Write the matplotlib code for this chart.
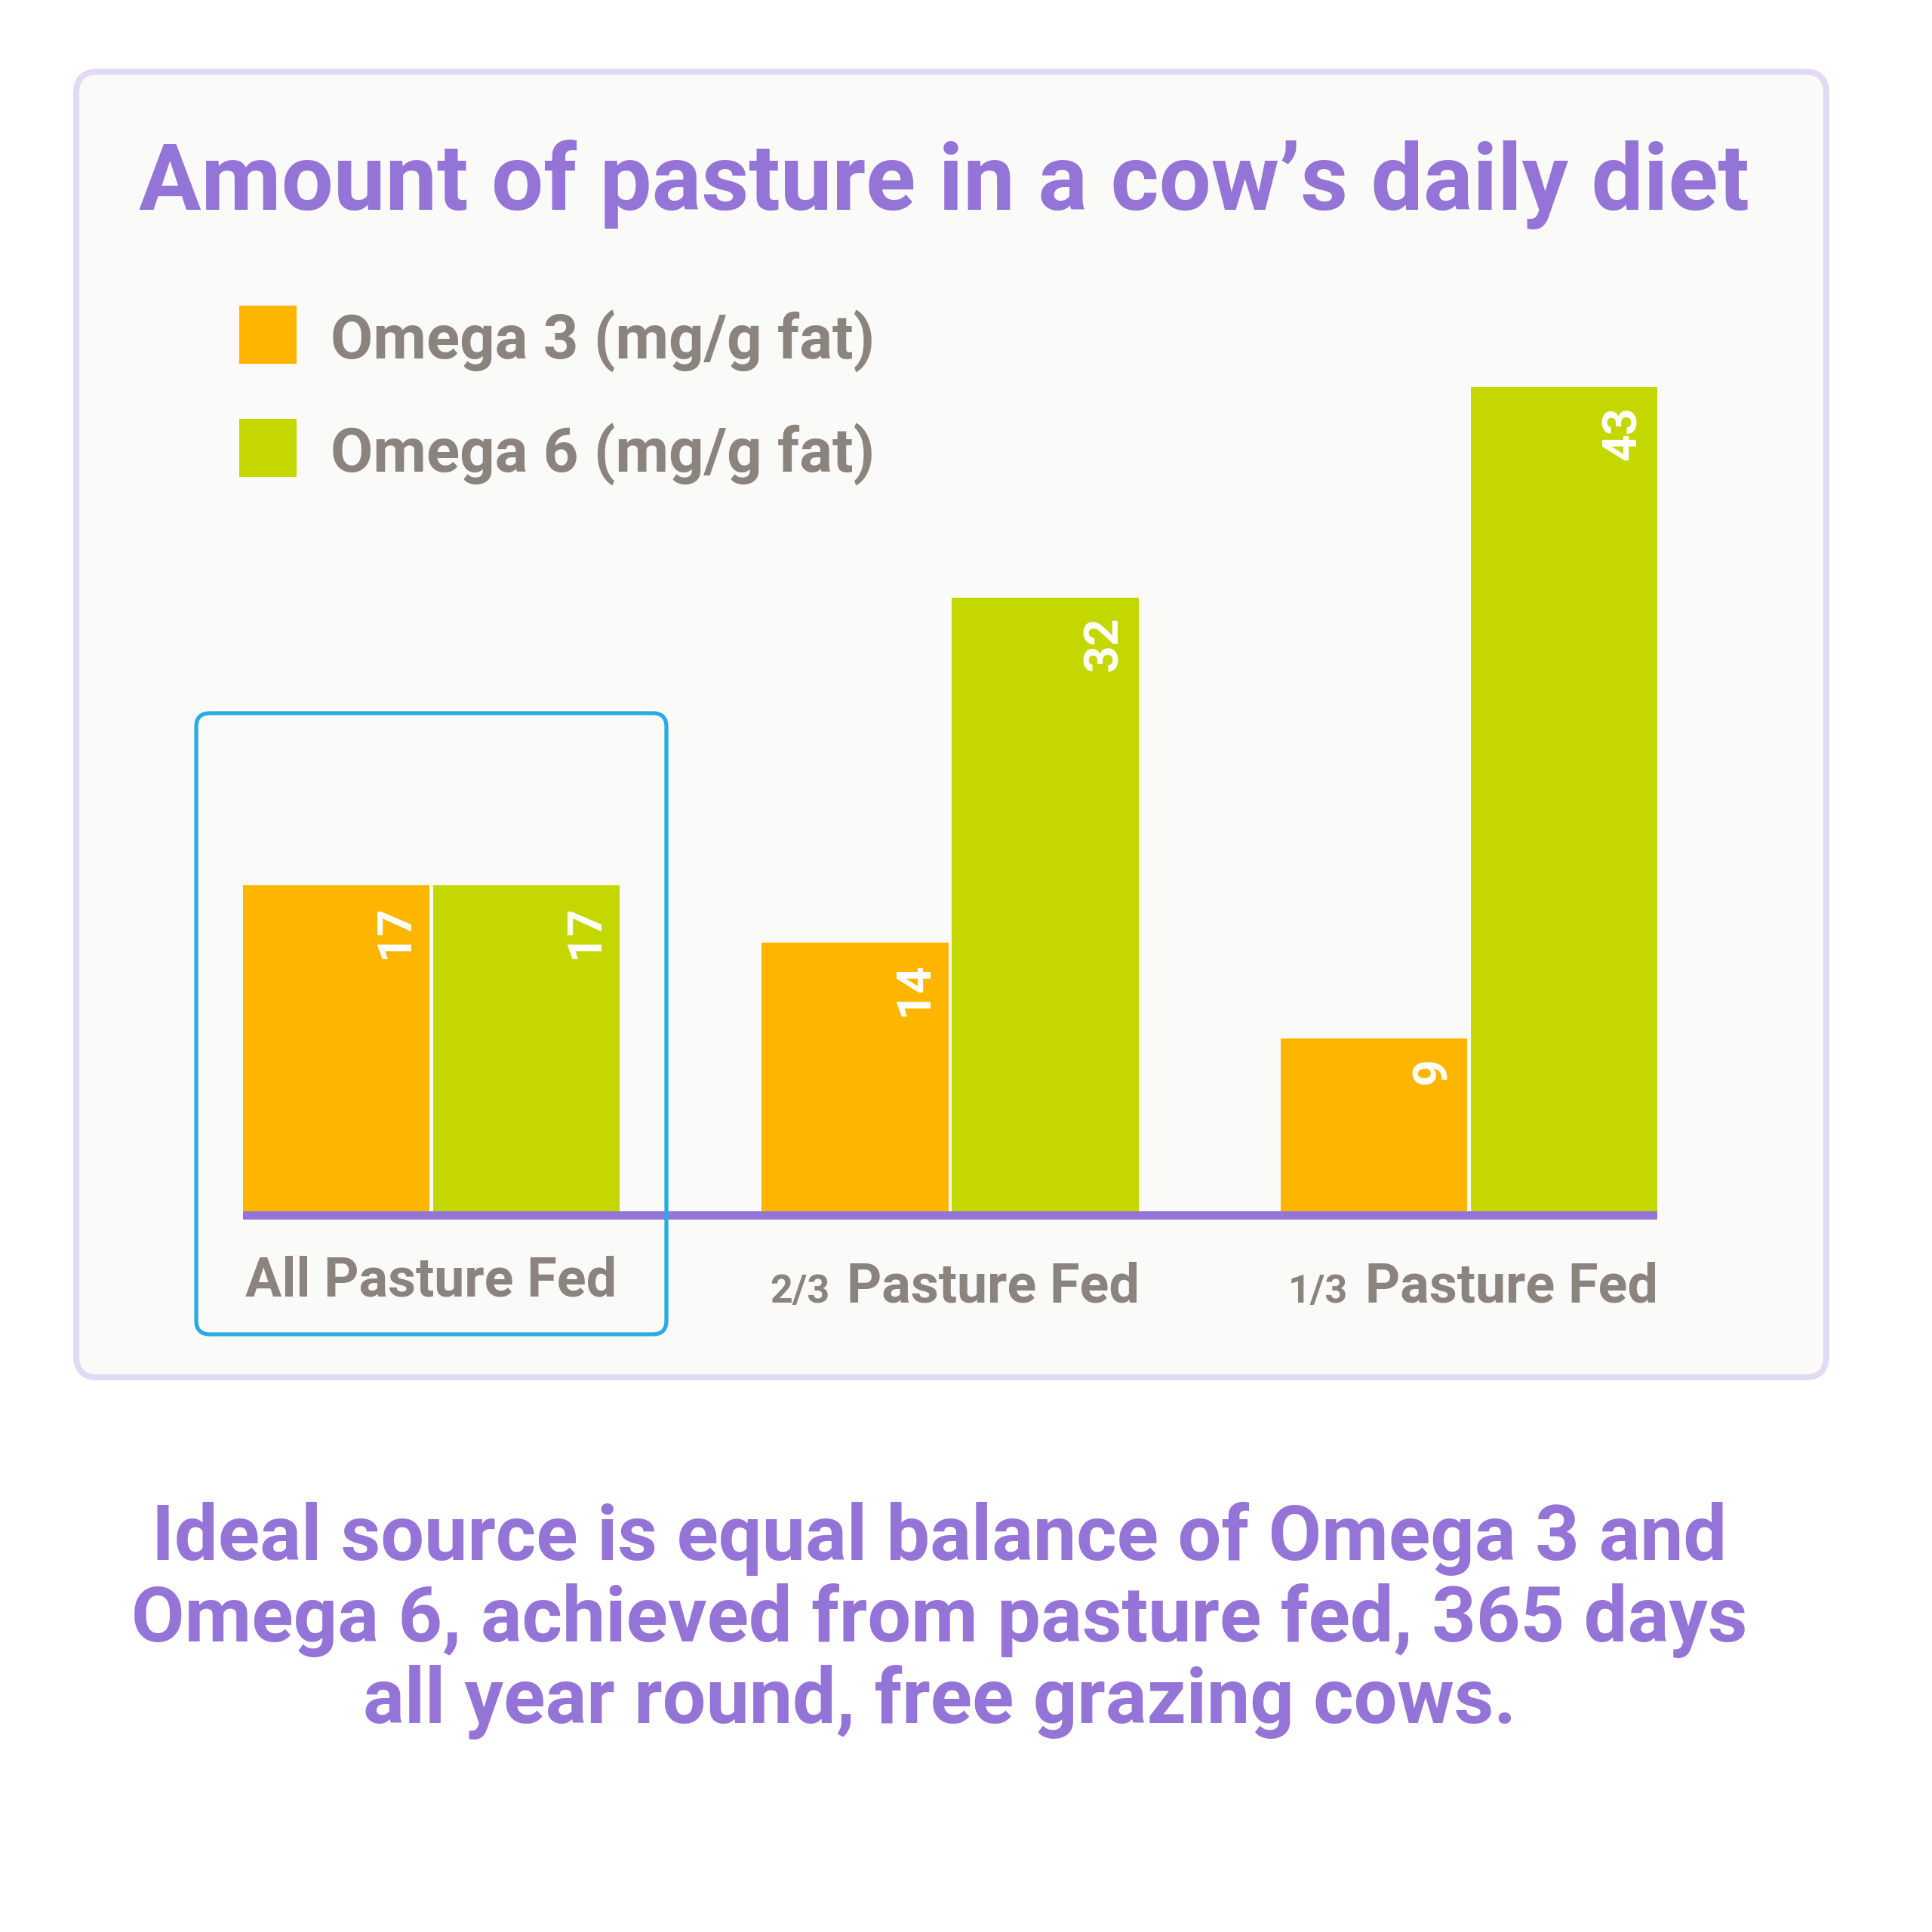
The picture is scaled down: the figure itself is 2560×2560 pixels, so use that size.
import numpy as np
import matplotlib.pyplot as plt
import matplotlib.transforms as mtransforms
from matplotlib.patches import FancyBboxPatch, Rectangle

# data
categories = ["All Pasture Fed", "2/3 Pasture Fed", "1/3 Pasture Fed"]
omega3 = [17, 14, 9]
omega6 = [17, 32, 43]
series_names = ["Omega 3 (mg/g fat)", "Omega 6 (mg/g fat)"]
title = "Amount of pasture in a cow\u2019s daily diet"
footer = ["Ideal source is equal balance of Omega 3 and",
          "Omega 6, achieved from pasture fed, 365 days",
          "all year round, free grazing cows."]

ORANGE = "#fdb500"
GREEN = "#c4d700"
PURPLE = "#9474d6"
GREY = "#8b837e"
BLUE = "#27abe2"

plt.rcParams['font.family'] = ['Roboto', 'DejaVu Sans']

fig = plt.figure(figsize=(10.24, 10.24), dpi=250)
fig.patch.set_facecolor("white")

# background layer in pixel units, y going down
bg = fig.add_axes([0, 0, 1, 1], zorder=0)
bg.set_xlim(0, 2560)
bg.set_ylim(2560, 0)
bg.axis("off")

bg.add_patch(FancyBboxPatch((101, 95), 2319, 1730,
                            boxstyle="round,pad=0,rounding_size=28",
                            fc="#fafaf8", ec="#e2daf2", lw=2.3))

bg.text(1251, 278, title, ha="center", va="baseline", fontsize=35.3,
        fontweight="bold", color=PURPLE)

# legend
for k, (name, col) in enumerate(zip(series_names, [ORANGE, GREEN])):
    y0 = 405 + k * 150
    bg.add_patch(Rectangle((317, y0), 76, 77, fc=col, ec="none"))
    bg.text(438, y0 + 70, name, ha="left", va="baseline", fontsize=23.5,
            fontweight="bold", color=GREY)

# bars
w = 0.36
gap = 0.006
x = np.arange(len(categories))
ax = fig.add_axes([322 / 2560, (2560 - 1616) / 2560, 1874 / 2560, 1286 / 2560],
                  zorder=2)
ax.set_xlim(-w - gap / 2, len(categories) - 1 + w + gap / 2)
ax.set_ylim(-0.45, 50.2)
ax.axis("off")
ax.patch.set_alpha(0)

b3 = ax.bar(x - w / 2 - gap / 2, omega3, w, color=ORANGE, lw=0)
b6 = ax.bar(x + w / 2 + gap / 2, omega6, w, color=GREEN, lw=0)
ax.axhspan(-0.45, 0, color=PURPLE, lw=0)

for bars, vals in [(b3, omega3), (b6, omega6)]:
    for r, v in zip(bars, vals):
        ax.text(r.get_x() + r.get_width() - 0.066, v - 1.0, str(v),
                rotation=90, ha="center", va="top", color="white",
                fontsize=18, fontweight="bold")

# category labels
trans = mtransforms.blended_transform_factory(ax.transData, bg.transData)
for i, lab in enumerate(categories):
    first, rest = lab.split(" ", 1)
    if "/" in first:
        ax.text(i - 0.2, 1726, rest, transform=trans, ha="left",
                va="baseline", fontsize=20.7, fontweight="bold", color=GREY)
        pre = mtransforms.offset_copy(trans, fig=fig, x=-0.09, units="inches")
        ax.text(i - 0.2, 1726, first, transform=pre, ha="right",
                va="baseline", fontsize=15, fontweight="bold", color=GREY)
    else:
        ax.text(i, 1718, lab, transform=trans, ha="center", va="baseline",
                fontsize=20.7, fontweight="bold", color=GREY)

# highlight box round the first group
fig.add_artist(FancyBboxPatch((260, 945), 623, 823,
                              boxstyle="round,pad=0,rounding_size=18",
                              fc="none", ec=BLUE, lw=1.5,
                              transform=bg.transData, zorder=5))

# footer
for k, line in enumerate(footer):
    bg.text(1245, 2067 + k * 108, line, ha="center", va="baseline",
            fontsize=29.5, fontweight="bold", color=PURPLE)

fig.savefig("out.png", dpi=250, facecolor="white")
